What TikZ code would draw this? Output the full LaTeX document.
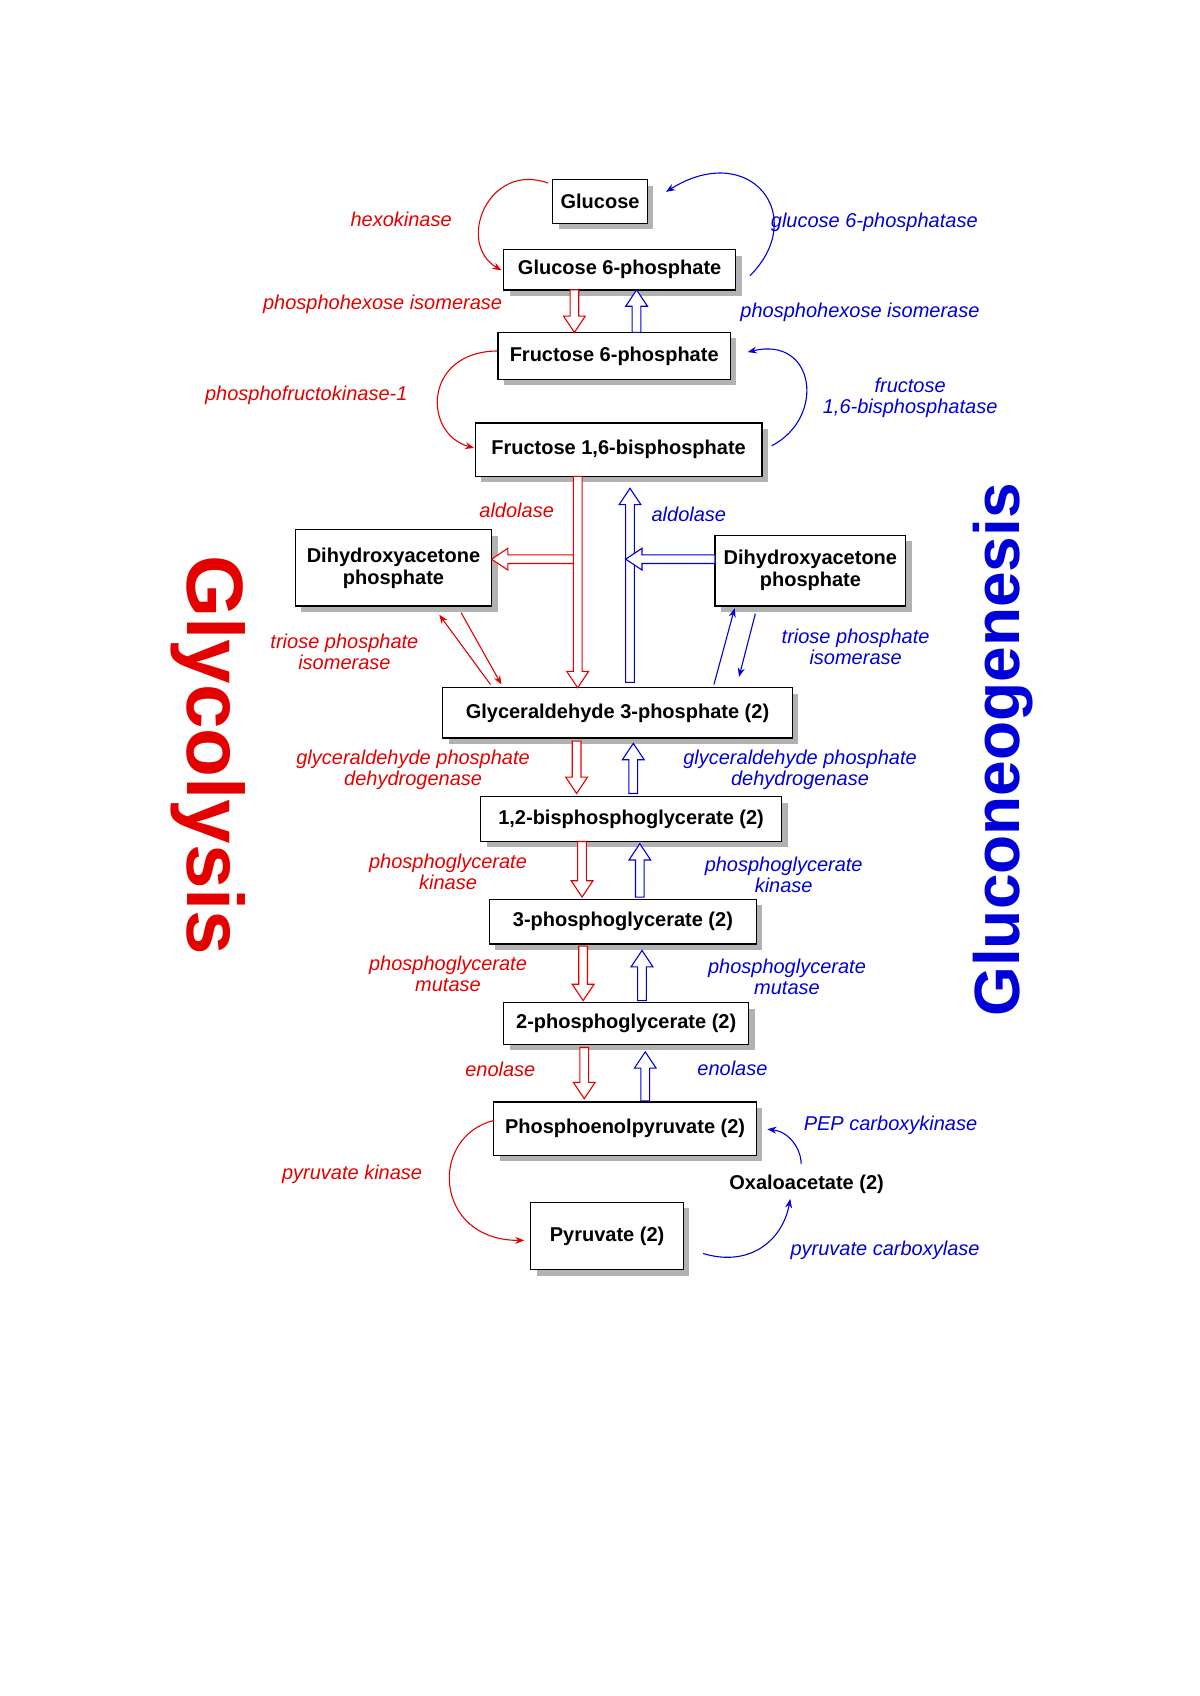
\documentclass[tikz,border=0pt]{standalone}
\usepackage{fontspec}
\setmainfont{Liberation Sans}
\usetikzlibrary{shadows,arrows.meta}
\newcommand\hdn[4]{\draw[#1,line width=1.1pt,fill=white,line join=miter] (#2-4,#3) -- (#2-4,#4-15) -- (#2-10,#4-15) -- (#2,#4) -- (#2+10,#4-15) -- (#2+4,#4-15) -- (#2+4,#3) -- cycle;}
\newcommand\hup[4]{\draw[#1,line width=1.1pt,fill=white,line join=miter] (#2-4,#4) -- (#2-4,#3+15) -- (#2-10,#3+15) -- (#2,#3) -- (#2+10,#3+15) -- (#2+4,#3+15) -- (#2+4,#4) -- cycle;}
\newcommand\hlt[4]{\draw[#1,line width=1.1pt,fill=white,line join=miter] (#4,#2-4) -- (#3+15,#2-4) -- (#3+15,#2-10) -- (#3,#2) -- (#3+15,#2+10) -- (#3+15,#2+4) -- (#4,#2+4) -- cycle;}
\begin{document}
\begin{tikzpicture}[x=1.09pt,y=-1.09pt,
 box/.style={draw,line width=1.3pt,fill=white,font=\bfseries\fontsize{20}{22}\selectfont,align=center,inner sep=0pt,
   drop shadow={shadow xshift=6pt,shadow yshift=-6pt,fill=black!30,opacity=1}},
 rl/.style={text=red!90!black,font=\itshape\fontsize{20}{21}\selectfont,align=center},
 bl/.style={text=blue!85!black,font=\itshape\fontsize{20}{21}\selectfont,align=center},
 ra/.style={red!90!black,line width=1.1pt,-{Stealth[length=9pt,width=7pt]}},
 ba/.style={blue!85!black,line width=1.1pt,-{Stealth[length=9pt,width=7pt]}}]
\useasboundingbox (0,0) rectangle (1100.9,1556);
\fill[white] (0,0) rectangle (1100.9,1556);
\def\bx#1#2#3#4#5#6{\node[box,minimum width=#4*1.09pt-#2*1.09pt,minimum height=#5*1.09pt-#3*1.09pt] (#1) at ({(#2+#4)/2-3},{(#3+#5)/2-2}) {#6};}
\bx{glc}{510}{167}{597}{207}{Glucose}
\bx{g6p}{465}{231}{678}{268}{Glucose 6-phosphate}
\bx{f6p}{460}{307}{673}{350}{Fructose 6-phosphate}
\bx{fbp}{439}{390}{702}{439}{Fructose 1,6-bisphosphate}
\bx{dl}{274}{488}{454}{558}{Dihydroxyacetone\\phosphate}
\bx{dr}{659}{493}{834}{558}{Dihydroxyacetone\\phosphate}
\bx{gap}{409}{633}{730}{679}{Glyceraldehyde 3-phosphate (2)}
\bx{bpg}{444}{733}{720}{774}{1,2-bisphosphoglycerate (2)}
\bx{pg3}{452}{827}{697}{868}{3-phosphoglycerate (2)}
\bx{pg2}{465}{922}{690}{960}{2-phosphoglycerate (2)}
\bx{pep}{456}{1013}{697}{1062}{Phosphoenolpyruvate (2)}
\bx{pyr}{490}{1105}{630}{1167}{Pyruvate (2)}
\node[font=\bfseries\fontsize{20}{22}\selectfont] (oaa) at (740,1087) {Oxaloacetate (2)};
% hollow arrows
\hdn{red!90!black}{527}{266}{305}
\hup{blue!85!black}{584}{266}{305}
\hdn{red!90!black}{530}{437}{631}
\hup{blue!85!black}{578}{448}{626}
\hlt{red!90!black}{513}{451}{526}
\hlt{blue!85!black}{513}{574}{656}
\hdn{red!90!black}{529}{680}{728}
\hup{blue!85!black}{581}{682}{728}
\hdn{red!90!black}{534}{772}{823}
\hup{blue!85!black}{587}{774}{823}
\hdn{red!90!black}{535}{868}{918}
\hup{blue!85!black}{589}{872}{918}
\hdn{red!90!black}{536}{961}{1008}
\hup{blue!85!black}{592}{965}{1010}
% curved arrows
\draw[ra] (503,168) .. controls (448,148) and (418,223) .. (460,248);
\draw[ba] (688,253) .. controls (743,198) and (688,128) .. (611,176);
\draw[ra] (456,322) .. controls (388,323) and (388,398) .. (435,411);
\draw[ba] (708,409) .. controls (758,383) and (748,308) .. (686,323);
\draw[ra] (453,1028) .. controls (393,1043) and (398,1138) .. (481,1138);
\draw[ba] (645,1150) .. controls (688,1163) and (718,1138) .. (725,1100);
\draw[ba] (735,1068) .. controls (735,1053) and (723,1038) .. (704,1036);
\draw[ra] (450,628) -- (403,564);
\draw[ra] (423,562) -- (460,628);
\draw[ba] (655,628) -- (674,558);
\draw[ba] (693,563) -- (678,621);
% labels
\node[rl] at (368,201) {hexokinase};
\node[bl,anchor=west] at (704,204) {glucose 6-phosphatase};
\node[rl] at (351,279) {phosphohexose isomerase};
\node[bl] at (789,287) {phosphohexose isomerase};
\node[rl] at (281,363) {phosphofructokinase-1};
\node[bl,inner sep=0pt] at (835,365) {fructose\\1,6-bisphosphatase};
\node[rl] at (474,468) {aldolase};
\node[bl] at (632,472) {aldolase};
\node[rl,inner sep=0pt] at (316,598) {triose phosphate\\isomerase};
\node[bl,inner sep=0pt] at (785,593) {triose phosphate\\isomerase};
\node[rl,inner sep=0pt] at (379,706) {glyceraldehyde phosphate\\dehydrogenase};
\node[bl,inner sep=0pt] at (734,706) {glyceraldehyde phosphate\\dehydrogenase};
\node[rl,inner sep=0pt] at (411,800) {phosphoglycerate\\kinase};
\node[bl,inner sep=0pt] at (719,803) {phosphoglycerate\\kinase};
\node[rl,inner sep=0pt] at (411,893) {phosphoglycerate\\mutase};
\node[bl,inner sep=0pt] at (722,896) {phosphoglycerate\\mutase};
\node[rl] at (459,981) {enolase};
\node[bl] at (672,980) {enolase};
\node[bl] at (817,1032) {PEP carboxykinase};
\node[rl] at (323,1077) {pyruvate kinase};
\node[bl] at (812,1147) {pyruvate carboxylase};
\node[text=red!90!black,font=\bfseries\fontsize{80}{80}\selectfont,rotate=-90] at (191,693) {Glycolysis};
\node[text=blue!85!black,font=\bfseries\fontsize{64}{64}\selectfont,rotate=90] at (920,688) {Gluconeogenesis};
\end{tikzpicture}
\end{document}
